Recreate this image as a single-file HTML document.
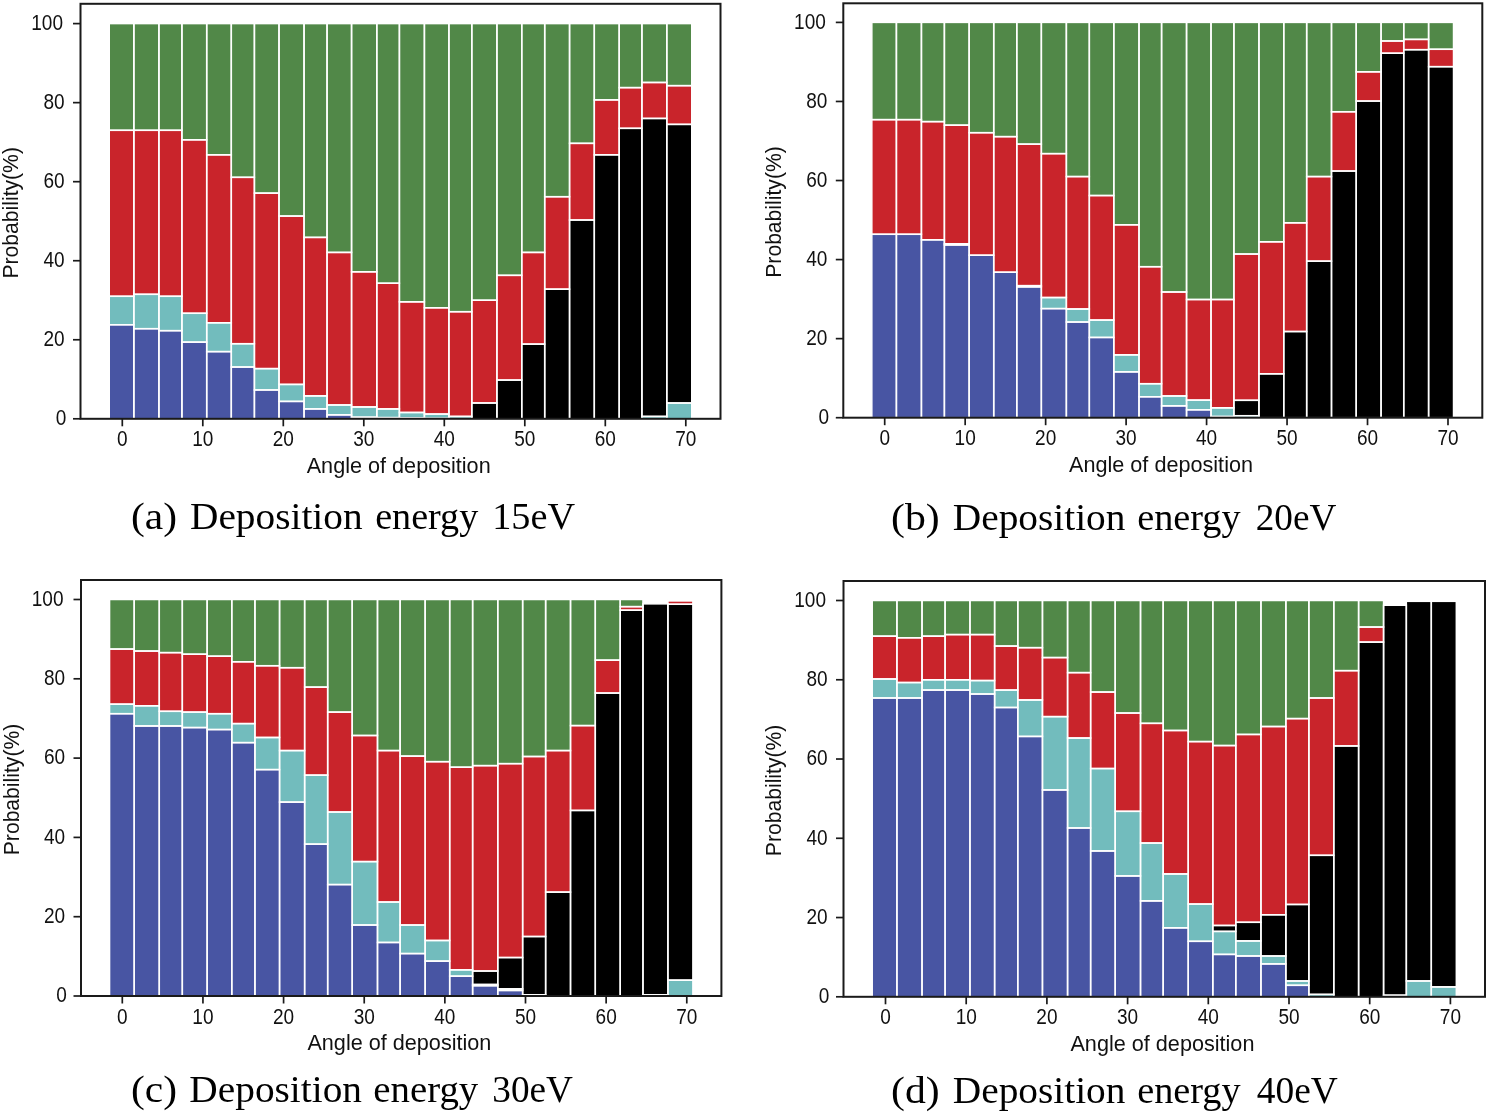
<!DOCTYPE html>
<html><head><meta charset="utf-8"><title>Deposition charts</title>
<style>html,body{margin:0;padding:0;background:#fff;width:1489px;height:1115px;overflow:hidden}svg{display:block;will-change:transform}</style>
</head><body>
<svg width="1489" height="1115" viewBox="0 0 1489 1115"><g><rect x="109.25" y="324.74" width="24.60" height="94.06" fill="#4855a3"/><rect x="109.25" y="296.29" width="24.60" height="28.45" fill="#72bcbd"/><rect x="109.25" y="130.30" width="24.60" height="165.98" fill="#c9242b"/><rect x="109.25" y="23.60" width="24.60" height="106.70" fill="#518848"/><rect x="133.85" y="328.69" width="25.05" height="90.11" fill="#4855a3"/><rect x="133.85" y="294.31" width="25.05" height="34.38" fill="#72bcbd"/><rect x="133.85" y="130.30" width="25.05" height="164.01" fill="#c9242b"/><rect x="133.85" y="23.60" width="25.05" height="106.70" fill="#518848"/><rect x="158.90" y="330.67" width="23.00" height="88.13" fill="#4855a3"/><rect x="158.90" y="296.29" width="23.00" height="34.38" fill="#72bcbd"/><rect x="158.90" y="130.30" width="23.00" height="165.98" fill="#c9242b"/><rect x="158.90" y="23.60" width="23.00" height="106.70" fill="#518848"/><rect x="181.90" y="342.13" width="24.80" height="76.67" fill="#4855a3"/><rect x="181.90" y="313.28" width="24.80" height="28.85" fill="#72bcbd"/><rect x="181.90" y="139.79" width="24.80" height="173.49" fill="#c9242b"/><rect x="181.90" y="23.60" width="24.80" height="116.19" fill="#518848"/><rect x="206.70" y="351.62" width="24.60" height="67.18" fill="#4855a3"/><rect x="206.70" y="322.77" width="24.60" height="28.85" fill="#72bcbd"/><rect x="206.70" y="154.81" width="24.60" height="167.96" fill="#c9242b"/><rect x="206.70" y="23.60" width="24.60" height="131.21" fill="#518848"/><rect x="231.30" y="367.03" width="23.10" height="51.77" fill="#4855a3"/><rect x="231.30" y="343.71" width="23.10" height="23.32" fill="#72bcbd"/><rect x="231.30" y="177.33" width="23.10" height="166.38" fill="#c9242b"/><rect x="231.30" y="23.60" width="23.10" height="153.73" fill="#518848"/><rect x="254.40" y="389.95" width="24.60" height="28.85" fill="#4855a3"/><rect x="254.40" y="368.61" width="24.60" height="21.34" fill="#72bcbd"/><rect x="254.40" y="193.14" width="24.60" height="175.47" fill="#c9242b"/><rect x="254.40" y="23.60" width="24.60" height="169.54" fill="#518848"/><rect x="279.00" y="401.41" width="25.05" height="17.39" fill="#4855a3"/><rect x="279.00" y="384.42" width="25.05" height="16.99" fill="#72bcbd"/><rect x="279.00" y="216.06" width="25.05" height="168.36" fill="#c9242b"/><rect x="279.00" y="23.60" width="25.05" height="192.46" fill="#518848"/><rect x="304.05" y="408.92" width="23.00" height="9.88" fill="#4855a3"/><rect x="304.05" y="395.88" width="23.00" height="13.04" fill="#72bcbd"/><rect x="304.05" y="237.40" width="23.00" height="158.48" fill="#c9242b"/><rect x="304.05" y="23.60" width="23.00" height="213.80" fill="#518848"/><rect x="327.05" y="414.85" width="24.50" height="3.95" fill="#4855a3"/><rect x="327.05" y="404.97" width="24.50" height="9.88" fill="#72bcbd"/><rect x="327.05" y="252.42" width="24.50" height="152.55" fill="#c9242b"/><rect x="327.05" y="23.60" width="24.50" height="228.82" fill="#518848"/><rect x="351.55" y="417.22" width="25.25" height="1.58" fill="#4855a3"/><rect x="351.55" y="406.94" width="25.25" height="10.28" fill="#72bcbd"/><rect x="351.55" y="271.79" width="25.25" height="135.16" fill="#c9242b"/><rect x="351.55" y="23.60" width="25.25" height="248.19" fill="#518848"/><rect x="376.80" y="417.61" width="22.60" height="1.19" fill="#4855a3"/><rect x="376.80" y="408.92" width="22.60" height="8.69" fill="#72bcbd"/><rect x="376.80" y="283.25" width="22.60" height="125.67" fill="#c9242b"/><rect x="376.80" y="23.60" width="22.60" height="259.65" fill="#518848"/><rect x="399.40" y="418.01" width="25.00" height="0.79" fill="#4855a3"/><rect x="399.40" y="412.48" width="25.00" height="5.53" fill="#72bcbd"/><rect x="399.40" y="301.82" width="25.00" height="110.66" fill="#c9242b"/><rect x="399.40" y="23.60" width="25.00" height="278.22" fill="#518848"/><rect x="424.40" y="418.40" width="24.50" height="0.40" fill="#4855a3"/><rect x="424.40" y="414.06" width="24.50" height="4.35" fill="#72bcbd"/><rect x="424.40" y="307.75" width="24.50" height="106.31" fill="#c9242b"/><rect x="424.40" y="23.60" width="24.50" height="284.15" fill="#518848"/><rect x="448.90" y="416.43" width="22.90" height="2.37" fill="#72bcbd"/><rect x="448.90" y="311.70" width="22.90" height="104.73" fill="#c9242b"/><rect x="448.90" y="23.60" width="22.90" height="288.10" fill="#518848"/><rect x="471.80" y="402.99" width="25.10" height="15.81" fill="#000000"/><rect x="471.80" y="300.24" width="25.10" height="102.75" fill="#c9242b"/><rect x="471.80" y="23.60" width="25.10" height="276.64" fill="#518848"/><rect x="496.90" y="380.07" width="24.85" height="38.73" fill="#000000"/><rect x="496.90" y="275.34" width="24.85" height="104.73" fill="#c9242b"/><rect x="496.90" y="23.60" width="24.85" height="251.74" fill="#518848"/><rect x="521.75" y="344.11" width="22.95" height="74.69" fill="#000000"/><rect x="521.75" y="252.42" width="22.95" height="91.69" fill="#c9242b"/><rect x="521.75" y="23.60" width="22.95" height="228.82" fill="#518848"/><rect x="544.70" y="289.17" width="24.85" height="129.63" fill="#000000"/><rect x="544.70" y="196.70" width="24.85" height="92.48" fill="#c9242b"/><rect x="544.70" y="23.60" width="24.85" height="173.10" fill="#518848"/><rect x="569.55" y="220.01" width="24.75" height="198.79" fill="#000000"/><rect x="569.55" y="143.35" width="24.75" height="76.67" fill="#c9242b"/><rect x="569.55" y="23.60" width="24.75" height="119.75" fill="#518848"/><rect x="594.30" y="154.81" width="24.90" height="263.99" fill="#000000"/><rect x="594.30" y="99.87" width="24.90" height="54.93" fill="#c9242b"/><rect x="594.30" y="23.60" width="24.90" height="76.27" fill="#518848"/><rect x="619.20" y="128.33" width="22.70" height="290.47" fill="#000000"/><rect x="619.20" y="87.62" width="22.70" height="40.71" fill="#c9242b"/><rect x="619.20" y="23.60" width="22.70" height="64.02" fill="#518848"/><rect x="641.90" y="416.43" width="24.90" height="2.37" fill="#72bcbd"/><rect x="641.90" y="118.45" width="24.90" height="297.98" fill="#000000"/><rect x="641.90" y="82.48" width="24.90" height="35.96" fill="#c9242b"/><rect x="641.90" y="23.60" width="24.90" height="58.88" fill="#518848"/><rect x="666.80" y="402.99" width="24.95" height="15.81" fill="#72bcbd"/><rect x="666.80" y="124.38" width="24.95" height="278.62" fill="#000000"/><rect x="666.80" y="85.65" width="24.95" height="38.73" fill="#c9242b"/><rect x="666.80" y="23.60" width="24.95" height="62.05" fill="#518848"/><rect x="109.25" y="324.74" width="24.60" height="94.06" fill="none" stroke="#fff" stroke-width="1.5"/><rect x="109.25" y="296.29" width="24.60" height="28.45" fill="none" stroke="#fff" stroke-width="1.5"/><rect x="109.25" y="130.30" width="24.60" height="165.98" fill="none" stroke="#fff" stroke-width="1.5"/><rect x="109.25" y="23.60" width="24.60" height="106.70" fill="none" stroke="#fff" stroke-width="1.5"/><rect x="133.85" y="328.69" width="25.05" height="90.11" fill="none" stroke="#fff" stroke-width="1.5"/><rect x="133.85" y="294.31" width="25.05" height="34.38" fill="none" stroke="#fff" stroke-width="1.5"/><rect x="133.85" y="130.30" width="25.05" height="164.01" fill="none" stroke="#fff" stroke-width="1.5"/><rect x="133.85" y="23.60" width="25.05" height="106.70" fill="none" stroke="#fff" stroke-width="1.5"/><rect x="158.90" y="330.67" width="23.00" height="88.13" fill="none" stroke="#fff" stroke-width="1.5"/><rect x="158.90" y="296.29" width="23.00" height="34.38" fill="none" stroke="#fff" stroke-width="1.5"/><rect x="158.90" y="130.30" width="23.00" height="165.98" fill="none" stroke="#fff" stroke-width="1.5"/><rect x="158.90" y="23.60" width="23.00" height="106.70" fill="none" stroke="#fff" stroke-width="1.5"/><rect x="181.90" y="342.13" width="24.80" height="76.67" fill="none" stroke="#fff" stroke-width="1.5"/><rect x="181.90" y="313.28" width="24.80" height="28.85" fill="none" stroke="#fff" stroke-width="1.5"/><rect x="181.90" y="139.79" width="24.80" height="173.49" fill="none" stroke="#fff" stroke-width="1.5"/><rect x="181.90" y="23.60" width="24.80" height="116.19" fill="none" stroke="#fff" stroke-width="1.5"/><rect x="206.70" y="351.62" width="24.60" height="67.18" fill="none" stroke="#fff" stroke-width="1.5"/><rect x="206.70" y="322.77" width="24.60" height="28.85" fill="none" stroke="#fff" stroke-width="1.5"/><rect x="206.70" y="154.81" width="24.60" height="167.96" fill="none" stroke="#fff" stroke-width="1.5"/><rect x="206.70" y="23.60" width="24.60" height="131.21" fill="none" stroke="#fff" stroke-width="1.5"/><rect x="231.30" y="367.03" width="23.10" height="51.77" fill="none" stroke="#fff" stroke-width="1.5"/><rect x="231.30" y="343.71" width="23.10" height="23.32" fill="none" stroke="#fff" stroke-width="1.5"/><rect x="231.30" y="177.33" width="23.10" height="166.38" fill="none" stroke="#fff" stroke-width="1.5"/><rect x="231.30" y="23.60" width="23.10" height="153.73" fill="none" stroke="#fff" stroke-width="1.5"/><rect x="254.40" y="389.95" width="24.60" height="28.85" fill="none" stroke="#fff" stroke-width="1.5"/><rect x="254.40" y="368.61" width="24.60" height="21.34" fill="none" stroke="#fff" stroke-width="1.5"/><rect x="254.40" y="193.14" width="24.60" height="175.47" fill="none" stroke="#fff" stroke-width="1.5"/><rect x="254.40" y="23.60" width="24.60" height="169.54" fill="none" stroke="#fff" stroke-width="1.5"/><rect x="279.00" y="401.41" width="25.05" height="17.39" fill="none" stroke="#fff" stroke-width="1.5"/><rect x="279.00" y="384.42" width="25.05" height="16.99" fill="none" stroke="#fff" stroke-width="1.5"/><rect x="279.00" y="216.06" width="25.05" height="168.36" fill="none" stroke="#fff" stroke-width="1.5"/><rect x="279.00" y="23.60" width="25.05" height="192.46" fill="none" stroke="#fff" stroke-width="1.5"/><rect x="304.05" y="408.92" width="23.00" height="9.88" fill="none" stroke="#fff" stroke-width="1.5"/><rect x="304.05" y="395.88" width="23.00" height="13.04" fill="none" stroke="#fff" stroke-width="1.5"/><rect x="304.05" y="237.40" width="23.00" height="158.48" fill="none" stroke="#fff" stroke-width="1.5"/><rect x="304.05" y="23.60" width="23.00" height="213.80" fill="none" stroke="#fff" stroke-width="1.5"/><rect x="327.05" y="414.85" width="24.50" height="3.95" fill="none" stroke="#fff" stroke-width="1.5"/><rect x="327.05" y="404.97" width="24.50" height="9.88" fill="none" stroke="#fff" stroke-width="1.5"/><rect x="327.05" y="252.42" width="24.50" height="152.55" fill="none" stroke="#fff" stroke-width="1.5"/><rect x="327.05" y="23.60" width="24.50" height="228.82" fill="none" stroke="#fff" stroke-width="1.5"/><rect x="351.55" y="417.22" width="25.25" height="1.58" fill="none" stroke="#fff" stroke-width="1.5"/><rect x="351.55" y="406.94" width="25.25" height="10.28" fill="none" stroke="#fff" stroke-width="1.5"/><rect x="351.55" y="271.79" width="25.25" height="135.16" fill="none" stroke="#fff" stroke-width="1.5"/><rect x="351.55" y="23.60" width="25.25" height="248.19" fill="none" stroke="#fff" stroke-width="1.5"/><rect x="376.80" y="417.61" width="22.60" height="1.19" fill="none" stroke="#fff" stroke-width="1.5"/><rect x="376.80" y="408.92" width="22.60" height="8.69" fill="none" stroke="#fff" stroke-width="1.5"/><rect x="376.80" y="283.25" width="22.60" height="125.67" fill="none" stroke="#fff" stroke-width="1.5"/><rect x="376.80" y="23.60" width="22.60" height="259.65" fill="none" stroke="#fff" stroke-width="1.5"/><rect x="399.40" y="418.01" width="25.00" height="0.79" fill="none" stroke="#fff" stroke-width="1.5"/><rect x="399.40" y="412.48" width="25.00" height="5.53" fill="none" stroke="#fff" stroke-width="1.5"/><rect x="399.40" y="301.82" width="25.00" height="110.66" fill="none" stroke="#fff" stroke-width="1.5"/><rect x="399.40" y="23.60" width="25.00" height="278.22" fill="none" stroke="#fff" stroke-width="1.5"/><rect x="424.40" y="418.40" width="24.50" height="0.40" fill="none" stroke="#fff" stroke-width="1.5"/><rect x="424.40" y="414.06" width="24.50" height="4.35" fill="none" stroke="#fff" stroke-width="1.5"/><rect x="424.40" y="307.75" width="24.50" height="106.31" fill="none" stroke="#fff" stroke-width="1.5"/><rect x="424.40" y="23.60" width="24.50" height="284.15" fill="none" stroke="#fff" stroke-width="1.5"/><rect x="448.90" y="416.43" width="22.90" height="2.37" fill="none" stroke="#fff" stroke-width="1.5"/><rect x="448.90" y="311.70" width="22.90" height="104.73" fill="none" stroke="#fff" stroke-width="1.5"/><rect x="448.90" y="23.60" width="22.90" height="288.10" fill="none" stroke="#fff" stroke-width="1.5"/><rect x="471.80" y="402.99" width="25.10" height="15.81" fill="none" stroke="#fff" stroke-width="1.5"/><rect x="471.80" y="300.24" width="25.10" height="102.75" fill="none" stroke="#fff" stroke-width="1.5"/><rect x="471.80" y="23.60" width="25.10" height="276.64" fill="none" stroke="#fff" stroke-width="1.5"/><rect x="496.90" y="380.07" width="24.85" height="38.73" fill="none" stroke="#fff" stroke-width="1.5"/><rect x="496.90" y="275.34" width="24.85" height="104.73" fill="none" stroke="#fff" stroke-width="1.5"/><rect x="496.90" y="23.60" width="24.85" height="251.74" fill="none" stroke="#fff" stroke-width="1.5"/><rect x="521.75" y="344.11" width="22.95" height="74.69" fill="none" stroke="#fff" stroke-width="1.5"/><rect x="521.75" y="252.42" width="22.95" height="91.69" fill="none" stroke="#fff" stroke-width="1.5"/><rect x="521.75" y="23.60" width="22.95" height="228.82" fill="none" stroke="#fff" stroke-width="1.5"/><rect x="544.70" y="289.17" width="24.85" height="129.63" fill="none" stroke="#fff" stroke-width="1.5"/><rect x="544.70" y="196.70" width="24.85" height="92.48" fill="none" stroke="#fff" stroke-width="1.5"/><rect x="544.70" y="23.60" width="24.85" height="173.10" fill="none" stroke="#fff" stroke-width="1.5"/><rect x="569.55" y="220.01" width="24.75" height="198.79" fill="none" stroke="#fff" stroke-width="1.5"/><rect x="569.55" y="143.35" width="24.75" height="76.67" fill="none" stroke="#fff" stroke-width="1.5"/><rect x="569.55" y="23.60" width="24.75" height="119.75" fill="none" stroke="#fff" stroke-width="1.5"/><rect x="594.30" y="154.81" width="24.90" height="263.99" fill="none" stroke="#fff" stroke-width="1.5"/><rect x="594.30" y="99.87" width="24.90" height="54.93" fill="none" stroke="#fff" stroke-width="1.5"/><rect x="594.30" y="23.60" width="24.90" height="76.27" fill="none" stroke="#fff" stroke-width="1.5"/><rect x="619.20" y="128.33" width="22.70" height="290.47" fill="none" stroke="#fff" stroke-width="1.5"/><rect x="619.20" y="87.62" width="22.70" height="40.71" fill="none" stroke="#fff" stroke-width="1.5"/><rect x="619.20" y="23.60" width="22.70" height="64.02" fill="none" stroke="#fff" stroke-width="1.5"/><rect x="641.90" y="416.43" width="24.90" height="2.37" fill="none" stroke="#fff" stroke-width="1.5"/><rect x="641.90" y="118.45" width="24.90" height="297.98" fill="none" stroke="#fff" stroke-width="1.5"/><rect x="641.90" y="82.48" width="24.90" height="35.96" fill="none" stroke="#fff" stroke-width="1.5"/><rect x="641.90" y="23.60" width="24.90" height="58.88" fill="none" stroke="#fff" stroke-width="1.5"/><rect x="666.80" y="402.99" width="24.95" height="15.81" fill="none" stroke="#fff" stroke-width="1.5"/><rect x="666.80" y="124.38" width="24.95" height="278.62" fill="none" stroke="#fff" stroke-width="1.5"/><rect x="666.80" y="85.65" width="24.95" height="38.73" fill="none" stroke="#fff" stroke-width="1.5"/><rect x="666.80" y="23.60" width="24.95" height="62.05" fill="none" stroke="#fff" stroke-width="1.5"/></g>
<rect x="80.50" y="3.80" width="640.00" height="415.00" fill="none" stroke="#1a1a1a" stroke-width="2"/>
<g stroke="#1a1a1a" stroke-width="1.7"><line x1="122.30" y1="418.80" x2="122.30" y2="426.30"/><line x1="202.80" y1="418.80" x2="202.80" y2="426.30"/><line x1="283.30" y1="418.80" x2="283.30" y2="426.30"/><line x1="363.80" y1="418.80" x2="363.80" y2="426.30"/><line x1="444.30" y1="418.80" x2="444.30" y2="426.30"/><line x1="524.80" y1="418.80" x2="524.80" y2="426.30"/><line x1="605.30" y1="418.80" x2="605.30" y2="426.30"/><line x1="685.80" y1="418.80" x2="685.80" y2="426.30"/><line x1="73.00" y1="418.80" x2="80.50" y2="418.80"/><line x1="73.00" y1="339.76" x2="80.50" y2="339.76"/><line x1="73.00" y1="260.72" x2="80.50" y2="260.72"/><line x1="73.00" y1="181.68" x2="80.50" y2="181.68"/><line x1="73.00" y1="102.64" x2="80.50" y2="102.64"/><line x1="73.00" y1="23.60" x2="80.50" y2="23.60"/></g>
<g font-family="Liberation Sans, sans-serif" font-size="21.5" fill="#111"><text transform="translate(122.30,446.30) scale(0.885,1)" text-anchor="middle">0</text><text transform="translate(202.80,446.30) scale(0.885,1)" text-anchor="middle">10</text><text transform="translate(283.30,446.30) scale(0.885,1)" text-anchor="middle">20</text><text transform="translate(363.80,446.30) scale(0.885,1)" text-anchor="middle">30</text><text transform="translate(444.30,446.30) scale(0.885,1)" text-anchor="middle">40</text><text transform="translate(524.80,446.30) scale(0.885,1)" text-anchor="middle">50</text><text transform="translate(605.30,446.30) scale(0.885,1)" text-anchor="middle">60</text><text transform="translate(685.80,446.30) scale(0.885,1)" text-anchor="middle">70</text><text transform="translate(66.30,425.10) scale(0.885,1)" text-anchor="end">0</text><text transform="translate(64.65,346.06) scale(0.885,1)" text-anchor="end">20</text><text transform="translate(64.65,267.02) scale(0.885,1)" text-anchor="end">40</text><text transform="translate(64.65,187.98) scale(0.885,1)" text-anchor="end">60</text><text transform="translate(64.65,108.94) scale(0.885,1)" text-anchor="end">80</text><text transform="translate(63.00,29.90) scale(0.885,1)" text-anchor="end">100</text><text x="306.70" y="473.10" textLength="184" lengthAdjust="spacingAndGlyphs">Angle of deposition</text><text transform="translate(18.20,278.55) rotate(-90)" textLength="131.5" lengthAdjust="spacingAndGlyphs">Probability(%)</text></g>
<text x="131.02" y="528.90" font-family="Liberation Serif, serif" font-size="37" fill="#000" textLength="46.01" lengthAdjust="spacingAndGlyphs">(a)</text>
<text x="189.99" y="528.90" font-family="Liberation Serif, serif" font-size="37" fill="#000" textLength="172.61" lengthAdjust="spacingAndGlyphs">Deposition</text>
<text x="375.18" y="528.90" font-family="Liberation Serif, serif" font-size="37" fill="#000" textLength="103.03" lengthAdjust="spacingAndGlyphs">energy</text>
<text x="492.23" y="528.90" font-family="Liberation Serif, serif" font-size="37" fill="#000" textLength="82.81" lengthAdjust="spacingAndGlyphs">15eV</text>
<g><rect x="871.83" y="234.28" width="24.57" height="183.42" fill="#4855a3"/><rect x="871.83" y="119.64" width="24.57" height="114.64" fill="#c9242b"/><rect x="871.83" y="22.40" width="24.57" height="97.24" fill="#518848"/><rect x="896.40" y="234.28" width="25.02" height="183.42" fill="#4855a3"/><rect x="896.40" y="119.64" width="25.02" height="114.64" fill="#c9242b"/><rect x="896.40" y="22.40" width="25.02" height="97.24" fill="#518848"/><rect x="921.42" y="239.81" width="22.97" height="177.88" fill="#4855a3"/><rect x="921.42" y="121.62" width="22.97" height="118.19" fill="#c9242b"/><rect x="921.42" y="22.40" width="22.97" height="99.22" fill="#518848"/><rect x="944.38" y="244.95" width="24.77" height="172.75" fill="#4855a3"/><rect x="944.38" y="243.77" width="24.77" height="1.19" fill="#72bcbd"/><rect x="944.38" y="125.18" width="24.77" height="118.59" fill="#c9242b"/><rect x="944.38" y="22.40" width="24.77" height="102.78" fill="#518848"/><rect x="969.15" y="255.23" width="24.57" height="162.47" fill="#4855a3"/><rect x="969.15" y="132.69" width="24.57" height="122.54" fill="#c9242b"/><rect x="969.15" y="22.40" width="24.57" height="110.29" fill="#518848"/><rect x="993.71" y="272.23" width="23.07" height="145.47" fill="#4855a3"/><rect x="993.71" y="136.64" width="23.07" height="135.59" fill="#c9242b"/><rect x="993.71" y="22.40" width="23.07" height="114.24" fill="#518848"/><rect x="1016.78" y="286.86" width="24.57" height="130.84" fill="#4855a3"/><rect x="1016.78" y="285.67" width="24.57" height="1.19" fill="#72bcbd"/><rect x="1016.78" y="144.15" width="24.57" height="141.52" fill="#c9242b"/><rect x="1016.78" y="22.40" width="24.57" height="121.75" fill="#518848"/><rect x="1041.35" y="308.60" width="25.02" height="109.10" fill="#4855a3"/><rect x="1041.35" y="297.53" width="25.02" height="11.07" fill="#72bcbd"/><rect x="1041.35" y="153.64" width="25.02" height="143.89" fill="#c9242b"/><rect x="1041.35" y="22.40" width="25.02" height="131.24" fill="#518848"/><rect x="1066.36" y="322.04" width="22.97" height="95.66" fill="#4855a3"/><rect x="1066.36" y="308.99" width="22.97" height="13.04" fill="#72bcbd"/><rect x="1066.36" y="176.57" width="22.97" height="132.43" fill="#c9242b"/><rect x="1066.36" y="22.40" width="22.97" height="154.17" fill="#518848"/><rect x="1089.33" y="337.45" width="24.47" height="80.25" fill="#4855a3"/><rect x="1089.33" y="320.06" width="24.47" height="17.39" fill="#72bcbd"/><rect x="1089.33" y="195.54" width="24.47" height="124.52" fill="#c9242b"/><rect x="1089.33" y="22.40" width="24.47" height="173.14" fill="#518848"/><rect x="1113.79" y="371.85" width="25.22" height="45.85" fill="#4855a3"/><rect x="1113.79" y="354.85" width="25.22" height="17.00" fill="#72bcbd"/><rect x="1113.79" y="224.79" width="25.22" height="130.05" fill="#c9242b"/><rect x="1113.79" y="22.40" width="25.22" height="202.39" fill="#518848"/><rect x="1139.01" y="396.75" width="22.57" height="20.95" fill="#4855a3"/><rect x="1139.01" y="383.70" width="22.57" height="13.04" fill="#72bcbd"/><rect x="1139.01" y="266.70" width="22.57" height="117.01" fill="#c9242b"/><rect x="1139.01" y="22.40" width="22.57" height="244.30" fill="#518848"/><rect x="1161.57" y="405.84" width="24.97" height="11.86" fill="#4855a3"/><rect x="1161.57" y="395.96" width="24.97" height="9.88" fill="#72bcbd"/><rect x="1161.57" y="291.99" width="24.97" height="103.96" fill="#c9242b"/><rect x="1161.57" y="22.40" width="24.97" height="269.59" fill="#518848"/><rect x="1186.54" y="409.79" width="24.47" height="7.91" fill="#4855a3"/><rect x="1186.54" y="400.11" width="24.47" height="9.68" fill="#72bcbd"/><rect x="1186.54" y="299.51" width="24.47" height="100.60" fill="#c9242b"/><rect x="1186.54" y="22.40" width="24.47" height="277.11" fill="#518848"/><rect x="1211.01" y="416.51" width="22.87" height="1.19" fill="#4855a3"/><rect x="1211.01" y="407.82" width="22.87" height="8.70" fill="#72bcbd"/><rect x="1211.01" y="299.51" width="22.87" height="108.31" fill="#c9242b"/><rect x="1211.01" y="22.40" width="22.87" height="277.11" fill="#518848"/><rect x="1233.87" y="415.72" width="25.07" height="1.98" fill="#72bcbd"/><rect x="1233.87" y="400.31" width="25.07" height="15.42" fill="#000000"/><rect x="1233.87" y="254.05" width="25.07" height="146.26" fill="#c9242b"/><rect x="1233.87" y="22.40" width="25.07" height="231.65" fill="#518848"/><rect x="1258.94" y="373.82" width="24.82" height="43.88" fill="#000000"/><rect x="1258.94" y="241.79" width="24.82" height="132.03" fill="#c9242b"/><rect x="1258.94" y="22.40" width="24.82" height="219.39" fill="#518848"/><rect x="1283.75" y="331.52" width="22.92" height="86.18" fill="#000000"/><rect x="1283.75" y="222.82" width="22.92" height="108.71" fill="#c9242b"/><rect x="1283.75" y="22.40" width="22.92" height="200.42" fill="#518848"/><rect x="1306.67" y="261.16" width="24.82" height="156.54" fill="#000000"/><rect x="1306.67" y="176.57" width="24.82" height="84.59" fill="#c9242b"/><rect x="1306.67" y="22.40" width="24.82" height="154.17" fill="#518848"/><rect x="1331.49" y="171.03" width="24.72" height="246.67" fill="#000000"/><rect x="1331.49" y="111.74" width="24.72" height="59.30" fill="#c9242b"/><rect x="1331.49" y="22.40" width="24.72" height="89.34" fill="#518848"/><rect x="1356.20" y="101.06" width="24.87" height="316.64" fill="#000000"/><rect x="1356.20" y="71.81" width="24.87" height="29.25" fill="#c9242b"/><rect x="1356.20" y="22.40" width="24.87" height="49.41" fill="#518848"/><rect x="1381.07" y="53.23" width="22.67" height="364.47" fill="#000000"/><rect x="1381.07" y="40.98" width="22.67" height="12.25" fill="#c9242b"/><rect x="1381.07" y="22.40" width="22.67" height="18.58" fill="#518848"/><rect x="1403.73" y="49.68" width="24.87" height="368.02" fill="#000000"/><rect x="1403.73" y="39.40" width="24.87" height="10.28" fill="#c9242b"/><rect x="1403.73" y="22.40" width="24.87" height="17.00" fill="#518848"/><rect x="1428.60" y="66.67" width="24.92" height="351.03" fill="#000000"/><rect x="1428.60" y="49.28" width="24.92" height="17.39" fill="#c9242b"/><rect x="1428.60" y="22.40" width="24.92" height="26.88" fill="#518848"/><rect x="871.83" y="234.28" width="24.57" height="183.42" fill="none" stroke="#fff" stroke-width="1.5"/><rect x="871.83" y="119.64" width="24.57" height="114.64" fill="none" stroke="#fff" stroke-width="1.5"/><rect x="871.83" y="22.40" width="24.57" height="97.24" fill="none" stroke="#fff" stroke-width="1.5"/><rect x="896.40" y="234.28" width="25.02" height="183.42" fill="none" stroke="#fff" stroke-width="1.5"/><rect x="896.40" y="119.64" width="25.02" height="114.64" fill="none" stroke="#fff" stroke-width="1.5"/><rect x="896.40" y="22.40" width="25.02" height="97.24" fill="none" stroke="#fff" stroke-width="1.5"/><rect x="921.42" y="239.81" width="22.97" height="177.88" fill="none" stroke="#fff" stroke-width="1.5"/><rect x="921.42" y="121.62" width="22.97" height="118.19" fill="none" stroke="#fff" stroke-width="1.5"/><rect x="921.42" y="22.40" width="22.97" height="99.22" fill="none" stroke="#fff" stroke-width="1.5"/><rect x="944.38" y="244.95" width="24.77" height="172.75" fill="none" stroke="#fff" stroke-width="1.5"/><rect x="944.38" y="243.77" width="24.77" height="1.19" fill="none" stroke="#fff" stroke-width="1.5"/><rect x="944.38" y="125.18" width="24.77" height="118.59" fill="none" stroke="#fff" stroke-width="1.5"/><rect x="944.38" y="22.40" width="24.77" height="102.78" fill="none" stroke="#fff" stroke-width="1.5"/><rect x="969.15" y="255.23" width="24.57" height="162.47" fill="none" stroke="#fff" stroke-width="1.5"/><rect x="969.15" y="132.69" width="24.57" height="122.54" fill="none" stroke="#fff" stroke-width="1.5"/><rect x="969.15" y="22.40" width="24.57" height="110.29" fill="none" stroke="#fff" stroke-width="1.5"/><rect x="993.71" y="272.23" width="23.07" height="145.47" fill="none" stroke="#fff" stroke-width="1.5"/><rect x="993.71" y="136.64" width="23.07" height="135.59" fill="none" stroke="#fff" stroke-width="1.5"/><rect x="993.71" y="22.40" width="23.07" height="114.24" fill="none" stroke="#fff" stroke-width="1.5"/><rect x="1016.78" y="286.86" width="24.57" height="130.84" fill="none" stroke="#fff" stroke-width="1.5"/><rect x="1016.78" y="285.67" width="24.57" height="1.19" fill="none" stroke="#fff" stroke-width="1.5"/><rect x="1016.78" y="144.15" width="24.57" height="141.52" fill="none" stroke="#fff" stroke-width="1.5"/><rect x="1016.78" y="22.40" width="24.57" height="121.75" fill="none" stroke="#fff" stroke-width="1.5"/><rect x="1041.35" y="308.60" width="25.02" height="109.10" fill="none" stroke="#fff" stroke-width="1.5"/><rect x="1041.35" y="297.53" width="25.02" height="11.07" fill="none" stroke="#fff" stroke-width="1.5"/><rect x="1041.35" y="153.64" width="25.02" height="143.89" fill="none" stroke="#fff" stroke-width="1.5"/><rect x="1041.35" y="22.40" width="25.02" height="131.24" fill="none" stroke="#fff" stroke-width="1.5"/><rect x="1066.36" y="322.04" width="22.97" height="95.66" fill="none" stroke="#fff" stroke-width="1.5"/><rect x="1066.36" y="308.99" width="22.97" height="13.04" fill="none" stroke="#fff" stroke-width="1.5"/><rect x="1066.36" y="176.57" width="22.97" height="132.43" fill="none" stroke="#fff" stroke-width="1.5"/><rect x="1066.36" y="22.40" width="22.97" height="154.17" fill="none" stroke="#fff" stroke-width="1.5"/><rect x="1089.33" y="337.45" width="24.47" height="80.25" fill="none" stroke="#fff" stroke-width="1.5"/><rect x="1089.33" y="320.06" width="24.47" height="17.39" fill="none" stroke="#fff" stroke-width="1.5"/><rect x="1089.33" y="195.54" width="24.47" height="124.52" fill="none" stroke="#fff" stroke-width="1.5"/><rect x="1089.33" y="22.40" width="24.47" height="173.14" fill="none" stroke="#fff" stroke-width="1.5"/><rect x="1113.79" y="371.85" width="25.22" height="45.85" fill="none" stroke="#fff" stroke-width="1.5"/><rect x="1113.79" y="354.85" width="25.22" height="17.00" fill="none" stroke="#fff" stroke-width="1.5"/><rect x="1113.79" y="224.79" width="25.22" height="130.05" fill="none" stroke="#fff" stroke-width="1.5"/><rect x="1113.79" y="22.40" width="25.22" height="202.39" fill="none" stroke="#fff" stroke-width="1.5"/><rect x="1139.01" y="396.75" width="22.57" height="20.95" fill="none" stroke="#fff" stroke-width="1.5"/><rect x="1139.01" y="383.70" width="22.57" height="13.04" fill="none" stroke="#fff" stroke-width="1.5"/><rect x="1139.01" y="266.70" width="22.57" height="117.01" fill="none" stroke="#fff" stroke-width="1.5"/><rect x="1139.01" y="22.40" width="22.57" height="244.30" fill="none" stroke="#fff" stroke-width="1.5"/><rect x="1161.57" y="405.84" width="24.97" height="11.86" fill="none" stroke="#fff" stroke-width="1.5"/><rect x="1161.57" y="395.96" width="24.97" height="9.88" fill="none" stroke="#fff" stroke-width="1.5"/><rect x="1161.57" y="291.99" width="24.97" height="103.96" fill="none" stroke="#fff" stroke-width="1.5"/><rect x="1161.57" y="22.40" width="24.97" height="269.59" fill="none" stroke="#fff" stroke-width="1.5"/><rect x="1186.54" y="409.79" width="24.47" height="7.91" fill="none" stroke="#fff" stroke-width="1.5"/><rect x="1186.54" y="400.11" width="24.47" height="9.68" fill="none" stroke="#fff" stroke-width="1.5"/><rect x="1186.54" y="299.51" width="24.47" height="100.60" fill="none" stroke="#fff" stroke-width="1.5"/><rect x="1186.54" y="22.40" width="24.47" height="277.11" fill="none" stroke="#fff" stroke-width="1.5"/><rect x="1211.01" y="416.51" width="22.87" height="1.19" fill="none" stroke="#fff" stroke-width="1.5"/><rect x="1211.01" y="407.82" width="22.87" height="8.70" fill="none" stroke="#fff" stroke-width="1.5"/><rect x="1211.01" y="299.51" width="22.87" height="108.31" fill="none" stroke="#fff" stroke-width="1.5"/><rect x="1211.01" y="22.40" width="22.87" height="277.11" fill="none" stroke="#fff" stroke-width="1.5"/><rect x="1233.87" y="415.72" width="25.07" height="1.98" fill="none" stroke="#fff" stroke-width="1.5"/><rect x="1233.87" y="400.31" width="25.07" height="15.42" fill="none" stroke="#fff" stroke-width="1.5"/><rect x="1233.87" y="254.05" width="25.07" height="146.26" fill="none" stroke="#fff" stroke-width="1.5"/><rect x="1233.87" y="22.40" width="25.07" height="231.65" fill="none" stroke="#fff" stroke-width="1.5"/><rect x="1258.94" y="373.82" width="24.82" height="43.88" fill="none" stroke="#fff" stroke-width="1.5"/><rect x="1258.94" y="241.79" width="24.82" height="132.03" fill="none" stroke="#fff" stroke-width="1.5"/><rect x="1258.94" y="22.40" width="24.82" height="219.39" fill="none" stroke="#fff" stroke-width="1.5"/><rect x="1283.75" y="331.52" width="22.92" height="86.18" fill="none" stroke="#fff" stroke-width="1.5"/><rect x="1283.75" y="222.82" width="22.92" height="108.71" fill="none" stroke="#fff" stroke-width="1.5"/><rect x="1283.75" y="22.40" width="22.92" height="200.42" fill="none" stroke="#fff" stroke-width="1.5"/><rect x="1306.67" y="261.16" width="24.82" height="156.54" fill="none" stroke="#fff" stroke-width="1.5"/><rect x="1306.67" y="176.57" width="24.82" height="84.59" fill="none" stroke="#fff" stroke-width="1.5"/><rect x="1306.67" y="22.40" width="24.82" height="154.17" fill="none" stroke="#fff" stroke-width="1.5"/><rect x="1331.49" y="171.03" width="24.72" height="246.67" fill="none" stroke="#fff" stroke-width="1.5"/><rect x="1331.49" y="111.74" width="24.72" height="59.30" fill="none" stroke="#fff" stroke-width="1.5"/><rect x="1331.49" y="22.40" width="24.72" height="89.34" fill="none" stroke="#fff" stroke-width="1.5"/><rect x="1356.20" y="101.06" width="24.87" height="316.64" fill="none" stroke="#fff" stroke-width="1.5"/><rect x="1356.20" y="71.81" width="24.87" height="29.25" fill="none" stroke="#fff" stroke-width="1.5"/><rect x="1356.20" y="22.40" width="24.87" height="49.41" fill="none" stroke="#fff" stroke-width="1.5"/><rect x="1381.07" y="53.23" width="22.67" height="364.47" fill="none" stroke="#fff" stroke-width="1.5"/><rect x="1381.07" y="40.98" width="22.67" height="12.25" fill="none" stroke="#fff" stroke-width="1.5"/><rect x="1381.07" y="22.40" width="22.67" height="18.58" fill="none" stroke="#fff" stroke-width="1.5"/><rect x="1403.73" y="49.68" width="24.87" height="368.02" fill="none" stroke="#fff" stroke-width="1.5"/><rect x="1403.73" y="39.40" width="24.87" height="10.28" fill="none" stroke="#fff" stroke-width="1.5"/><rect x="1403.73" y="22.40" width="24.87" height="17.00" fill="none" stroke="#fff" stroke-width="1.5"/><rect x="1428.60" y="66.67" width="24.92" height="351.03" fill="none" stroke="#fff" stroke-width="1.5"/><rect x="1428.60" y="49.28" width="24.92" height="17.39" fill="none" stroke="#fff" stroke-width="1.5"/><rect x="1428.60" y="22.40" width="24.92" height="26.88" fill="none" stroke="#fff" stroke-width="1.5"/></g>
<rect x="843.30" y="3.30" width="639.00" height="414.40" fill="none" stroke="#1a1a1a" stroke-width="2"/>
<g stroke="#1a1a1a" stroke-width="1.7"><line x1="884.70" y1="417.70" x2="884.70" y2="425.20"/><line x1="965.17" y1="417.70" x2="965.17" y2="425.20"/><line x1="1045.64" y1="417.70" x2="1045.64" y2="425.20"/><line x1="1126.11" y1="417.70" x2="1126.11" y2="425.20"/><line x1="1206.58" y1="417.70" x2="1206.58" y2="425.20"/><line x1="1287.05" y1="417.70" x2="1287.05" y2="425.20"/><line x1="1367.52" y1="417.70" x2="1367.52" y2="425.20"/><line x1="1447.99" y1="417.70" x2="1447.99" y2="425.20"/><line x1="835.80" y1="417.70" x2="843.30" y2="417.70"/><line x1="835.80" y1="338.64" x2="843.30" y2="338.64"/><line x1="835.80" y1="259.58" x2="843.30" y2="259.58"/><line x1="835.80" y1="180.52" x2="843.30" y2="180.52"/><line x1="835.80" y1="101.46" x2="843.30" y2="101.46"/><line x1="835.80" y1="22.40" x2="843.30" y2="22.40"/></g>
<g font-family="Liberation Sans, sans-serif" font-size="21.5" fill="#111"><text transform="translate(884.70,445.20) scale(0.885,1)" text-anchor="middle">0</text><text transform="translate(965.17,445.20) scale(0.885,1)" text-anchor="middle">10</text><text transform="translate(1045.64,445.20) scale(0.885,1)" text-anchor="middle">20</text><text transform="translate(1126.11,445.20) scale(0.885,1)" text-anchor="middle">30</text><text transform="translate(1206.58,445.20) scale(0.885,1)" text-anchor="middle">40</text><text transform="translate(1287.05,445.20) scale(0.885,1)" text-anchor="middle">50</text><text transform="translate(1367.52,445.20) scale(0.885,1)" text-anchor="middle">60</text><text transform="translate(1447.99,445.20) scale(0.885,1)" text-anchor="middle">70</text><text transform="translate(829.10,424.00) scale(0.885,1)" text-anchor="end">0</text><text transform="translate(827.45,344.94) scale(0.885,1)" text-anchor="end">20</text><text transform="translate(827.45,265.88) scale(0.885,1)" text-anchor="end">40</text><text transform="translate(827.45,186.82) scale(0.885,1)" text-anchor="end">60</text><text transform="translate(827.45,107.76) scale(0.885,1)" text-anchor="end">80</text><text transform="translate(825.80,28.70) scale(0.885,1)" text-anchor="end">100</text><text x="1069.00" y="472.00" textLength="184" lengthAdjust="spacingAndGlyphs">Angle of deposition</text><text transform="translate(781.00,277.75) rotate(-90)" textLength="131.5" lengthAdjust="spacingAndGlyphs">Probability(%)</text></g>
<text x="891.07" y="529.60" font-family="Liberation Serif, serif" font-size="37" fill="#000" textLength="48.64" lengthAdjust="spacingAndGlyphs">(b)</text>
<text x="952.79" y="529.60" font-family="Liberation Serif, serif" font-size="37" fill="#000" textLength="172.62" lengthAdjust="spacingAndGlyphs">Deposition</text>
<text x="1137.17" y="529.60" font-family="Liberation Serif, serif" font-size="37" fill="#000" textLength="103.44" lengthAdjust="spacingAndGlyphs">energy</text>
<text x="1255.76" y="529.60" font-family="Liberation Serif, serif" font-size="37" fill="#000" textLength="80.64" lengthAdjust="spacingAndGlyphs">20eV</text>
<g><rect x="109.57" y="713.69" width="24.63" height="282.31" fill="#4855a3"/><rect x="109.57" y="704.18" width="24.63" height="9.52" fill="#72bcbd"/><rect x="109.57" y="649.06" width="24.63" height="55.11" fill="#c9242b"/><rect x="109.57" y="599.50" width="24.63" height="49.56" fill="#518848"/><rect x="134.20" y="725.98" width="25.08" height="270.02" fill="#4855a3"/><rect x="134.20" y="705.76" width="25.08" height="20.22" fill="#72bcbd"/><rect x="134.20" y="651.05" width="25.08" height="54.72" fill="#c9242b"/><rect x="134.20" y="599.50" width="25.08" height="51.55" fill="#518848"/><rect x="159.28" y="725.98" width="23.03" height="270.02" fill="#4855a3"/><rect x="159.28" y="711.31" width="23.03" height="14.67" fill="#72bcbd"/><rect x="159.28" y="652.63" width="23.03" height="58.68" fill="#c9242b"/><rect x="159.28" y="599.50" width="23.03" height="53.13" fill="#518848"/><rect x="182.32" y="727.57" width="24.83" height="268.43" fill="#4855a3"/><rect x="182.32" y="712.11" width="24.83" height="15.46" fill="#72bcbd"/><rect x="182.32" y="654.22" width="24.83" height="57.89" fill="#c9242b"/><rect x="182.32" y="599.50" width="24.83" height="54.72" fill="#518848"/><rect x="207.15" y="729.55" width="24.63" height="266.45" fill="#4855a3"/><rect x="207.15" y="713.69" width="24.63" height="15.86" fill="#72bcbd"/><rect x="207.15" y="656.20" width="24.63" height="57.49" fill="#c9242b"/><rect x="207.15" y="599.50" width="24.63" height="56.70" fill="#518848"/><rect x="231.79" y="742.64" width="23.13" height="253.36" fill="#4855a3"/><rect x="231.79" y="723.60" width="23.13" height="19.03" fill="#72bcbd"/><rect x="231.79" y="661.75" width="23.13" height="61.85" fill="#c9242b"/><rect x="231.79" y="599.50" width="23.13" height="62.25" fill="#518848"/><rect x="254.92" y="769.60" width="24.63" height="226.40" fill="#4855a3"/><rect x="254.92" y="737.48" width="24.63" height="32.12" fill="#72bcbd"/><rect x="254.92" y="665.72" width="24.63" height="71.77" fill="#c9242b"/><rect x="254.92" y="599.50" width="24.63" height="66.22" fill="#518848"/><rect x="279.55" y="802.11" width="25.08" height="193.89" fill="#4855a3"/><rect x="279.55" y="750.57" width="25.08" height="51.54" fill="#72bcbd"/><rect x="279.55" y="667.70" width="25.08" height="82.87" fill="#c9242b"/><rect x="279.55" y="599.50" width="25.08" height="68.20" fill="#518848"/><rect x="304.64" y="844.14" width="23.03" height="151.86" fill="#4855a3"/><rect x="304.64" y="775.15" width="23.03" height="68.99" fill="#72bcbd"/><rect x="304.64" y="687.13" width="23.03" height="88.02" fill="#c9242b"/><rect x="304.64" y="599.50" width="23.03" height="87.63" fill="#518848"/><rect x="327.67" y="884.58" width="24.53" height="111.42" fill="#4855a3"/><rect x="327.67" y="812.02" width="24.53" height="72.56" fill="#72bcbd"/><rect x="327.67" y="712.11" width="24.53" height="99.92" fill="#c9242b"/><rect x="327.67" y="599.50" width="24.53" height="112.61" fill="#518848"/><rect x="352.21" y="925.03" width="25.28" height="70.97" fill="#4855a3"/><rect x="352.21" y="861.59" width="25.28" height="63.44" fill="#72bcbd"/><rect x="352.21" y="735.50" width="25.28" height="126.09" fill="#c9242b"/><rect x="352.21" y="599.50" width="25.28" height="136.00" fill="#518848"/><rect x="377.49" y="942.47" width="22.63" height="53.53" fill="#4855a3"/><rect x="377.49" y="902.03" width="22.63" height="40.44" fill="#72bcbd"/><rect x="377.49" y="750.57" width="22.63" height="151.46" fill="#c9242b"/><rect x="377.49" y="599.50" width="22.63" height="151.07" fill="#518848"/><rect x="400.12" y="953.57" width="25.03" height="42.43" fill="#4855a3"/><rect x="400.12" y="925.03" width="25.03" height="28.55" fill="#72bcbd"/><rect x="400.12" y="756.12" width="25.03" height="168.91" fill="#c9242b"/><rect x="400.12" y="599.50" width="25.03" height="156.62" fill="#518848"/><rect x="425.16" y="961.11" width="24.53" height="34.89" fill="#4855a3"/><rect x="425.16" y="940.49" width="24.53" height="20.62" fill="#72bcbd"/><rect x="425.16" y="761.67" width="24.53" height="178.82" fill="#c9242b"/><rect x="425.16" y="599.50" width="24.53" height="162.17" fill="#518848"/><rect x="449.69" y="976.17" width="22.93" height="19.83" fill="#4855a3"/><rect x="449.69" y="969.83" width="22.93" height="6.34" fill="#72bcbd"/><rect x="449.69" y="767.22" width="22.93" height="202.61" fill="#c9242b"/><rect x="449.69" y="599.50" width="22.93" height="167.72" fill="#518848"/><rect x="472.63" y="985.69" width="25.13" height="10.31" fill="#4855a3"/><rect x="472.63" y="984.50" width="25.13" height="1.19" fill="#72bcbd"/><rect x="472.63" y="971.02" width="25.13" height="13.48" fill="#000000"/><rect x="472.63" y="765.63" width="25.13" height="205.39" fill="#c9242b"/><rect x="472.63" y="599.50" width="25.13" height="166.13" fill="#518848"/><rect x="497.76" y="990.45" width="24.88" height="5.55" fill="#4855a3"/><rect x="497.76" y="988.86" width="24.88" height="1.59" fill="#72bcbd"/><rect x="497.76" y="957.54" width="24.88" height="31.32" fill="#000000"/><rect x="497.76" y="763.65" width="24.88" height="193.89" fill="#c9242b"/><rect x="497.76" y="599.50" width="24.88" height="164.15" fill="#518848"/><rect x="522.65" y="994.81" width="22.98" height="1.19" fill="#72bcbd"/><rect x="522.65" y="936.52" width="22.98" height="58.29" fill="#000000"/><rect x="522.65" y="756.51" width="22.98" height="180.01" fill="#c9242b"/><rect x="522.65" y="599.50" width="22.98" height="157.01" fill="#518848"/><rect x="545.63" y="892.12" width="24.88" height="103.88" fill="#000000"/><rect x="545.63" y="750.57" width="24.88" height="141.55" fill="#c9242b"/><rect x="545.63" y="599.50" width="24.88" height="151.07" fill="#518848"/><rect x="570.51" y="810.44" width="24.78" height="185.56" fill="#000000"/><rect x="570.51" y="725.59" width="24.78" height="84.85" fill="#c9242b"/><rect x="570.51" y="599.50" width="24.78" height="126.09" fill="#518848"/><rect x="595.30" y="693.07" width="24.93" height="302.93" fill="#000000"/><rect x="595.30" y="660.16" width="24.93" height="32.91" fill="#c9242b"/><rect x="595.30" y="599.50" width="24.93" height="60.66" fill="#518848"/><rect x="620.23" y="610.21" width="22.73" height="385.79" fill="#000000"/><rect x="620.23" y="606.64" width="22.73" height="3.57" fill="#c9242b"/><rect x="620.23" y="599.50" width="22.73" height="7.14" fill="#518848"/><rect x="642.97" y="994.81" width="24.93" height="1.19" fill="#72bcbd"/><rect x="642.97" y="603.86" width="24.93" height="390.95" fill="#000000"/><rect x="667.90" y="980.14" width="24.98" height="15.86" fill="#72bcbd"/><rect x="667.90" y="604.26" width="24.98" height="375.88" fill="#000000"/><rect x="667.90" y="600.69" width="24.98" height="3.57" fill="#c9242b"/><rect x="667.90" y="599.50" width="24.98" height="1.19" fill="#518848"/><rect x="109.57" y="713.69" width="24.63" height="282.31" fill="none" stroke="#fff" stroke-width="1.5"/><rect x="109.57" y="704.18" width="24.63" height="9.52" fill="none" stroke="#fff" stroke-width="1.5"/><rect x="109.57" y="649.06" width="24.63" height="55.11" fill="none" stroke="#fff" stroke-width="1.5"/><rect x="109.57" y="599.50" width="24.63" height="49.56" fill="none" stroke="#fff" stroke-width="1.5"/><rect x="134.20" y="725.98" width="25.08" height="270.02" fill="none" stroke="#fff" stroke-width="1.5"/><rect x="134.20" y="705.76" width="25.08" height="20.22" fill="none" stroke="#fff" stroke-width="1.5"/><rect x="134.20" y="651.05" width="25.08" height="54.72" fill="none" stroke="#fff" stroke-width="1.5"/><rect x="134.20" y="599.50" width="25.08" height="51.55" fill="none" stroke="#fff" stroke-width="1.5"/><rect x="159.28" y="725.98" width="23.03" height="270.02" fill="none" stroke="#fff" stroke-width="1.5"/><rect x="159.28" y="711.31" width="23.03" height="14.67" fill="none" stroke="#fff" stroke-width="1.5"/><rect x="159.28" y="652.63" width="23.03" height="58.68" fill="none" stroke="#fff" stroke-width="1.5"/><rect x="159.28" y="599.50" width="23.03" height="53.13" fill="none" stroke="#fff" stroke-width="1.5"/><rect x="182.32" y="727.57" width="24.83" height="268.43" fill="none" stroke="#fff" stroke-width="1.5"/><rect x="182.32" y="712.11" width="24.83" height="15.46" fill="none" stroke="#fff" stroke-width="1.5"/><rect x="182.32" y="654.22" width="24.83" height="57.89" fill="none" stroke="#fff" stroke-width="1.5"/><rect x="182.32" y="599.50" width="24.83" height="54.72" fill="none" stroke="#fff" stroke-width="1.5"/><rect x="207.15" y="729.55" width="24.63" height="266.45" fill="none" stroke="#fff" stroke-width="1.5"/><rect x="207.15" y="713.69" width="24.63" height="15.86" fill="none" stroke="#fff" stroke-width="1.5"/><rect x="207.15" y="656.20" width="24.63" height="57.49" fill="none" stroke="#fff" stroke-width="1.5"/><rect x="207.15" y="599.50" width="24.63" height="56.70" fill="none" stroke="#fff" stroke-width="1.5"/><rect x="231.79" y="742.64" width="23.13" height="253.36" fill="none" stroke="#fff" stroke-width="1.5"/><rect x="231.79" y="723.60" width="23.13" height="19.03" fill="none" stroke="#fff" stroke-width="1.5"/><rect x="231.79" y="661.75" width="23.13" height="61.85" fill="none" stroke="#fff" stroke-width="1.5"/><rect x="231.79" y="599.50" width="23.13" height="62.25" fill="none" stroke="#fff" stroke-width="1.5"/><rect x="254.92" y="769.60" width="24.63" height="226.40" fill="none" stroke="#fff" stroke-width="1.5"/><rect x="254.92" y="737.48" width="24.63" height="32.12" fill="none" stroke="#fff" stroke-width="1.5"/><rect x="254.92" y="665.72" width="24.63" height="71.77" fill="none" stroke="#fff" stroke-width="1.5"/><rect x="254.92" y="599.50" width="24.63" height="66.22" fill="none" stroke="#fff" stroke-width="1.5"/><rect x="279.55" y="802.11" width="25.08" height="193.89" fill="none" stroke="#fff" stroke-width="1.5"/><rect x="279.55" y="750.57" width="25.08" height="51.54" fill="none" stroke="#fff" stroke-width="1.5"/><rect x="279.55" y="667.70" width="25.08" height="82.87" fill="none" stroke="#fff" stroke-width="1.5"/><rect x="279.55" y="599.50" width="25.08" height="68.20" fill="none" stroke="#fff" stroke-width="1.5"/><rect x="304.64" y="844.14" width="23.03" height="151.86" fill="none" stroke="#fff" stroke-width="1.5"/><rect x="304.64" y="775.15" width="23.03" height="68.99" fill="none" stroke="#fff" stroke-width="1.5"/><rect x="304.64" y="687.13" width="23.03" height="88.02" fill="none" stroke="#fff" stroke-width="1.5"/><rect x="304.64" y="599.50" width="23.03" height="87.63" fill="none" stroke="#fff" stroke-width="1.5"/><rect x="327.67" y="884.58" width="24.53" height="111.42" fill="none" stroke="#fff" stroke-width="1.5"/><rect x="327.67" y="812.02" width="24.53" height="72.56" fill="none" stroke="#fff" stroke-width="1.5"/><rect x="327.67" y="712.11" width="24.53" height="99.92" fill="none" stroke="#fff" stroke-width="1.5"/><rect x="327.67" y="599.50" width="24.53" height="112.61" fill="none" stroke="#fff" stroke-width="1.5"/><rect x="352.21" y="925.03" width="25.28" height="70.97" fill="none" stroke="#fff" stroke-width="1.5"/><rect x="352.21" y="861.59" width="25.28" height="63.44" fill="none" stroke="#fff" stroke-width="1.5"/><rect x="352.21" y="735.50" width="25.28" height="126.09" fill="none" stroke="#fff" stroke-width="1.5"/><rect x="352.21" y="599.50" width="25.28" height="136.00" fill="none" stroke="#fff" stroke-width="1.5"/><rect x="377.49" y="942.47" width="22.63" height="53.53" fill="none" stroke="#fff" stroke-width="1.5"/><rect x="377.49" y="902.03" width="22.63" height="40.44" fill="none" stroke="#fff" stroke-width="1.5"/><rect x="377.49" y="750.57" width="22.63" height="151.46" fill="none" stroke="#fff" stroke-width="1.5"/><rect x="377.49" y="599.50" width="22.63" height="151.07" fill="none" stroke="#fff" stroke-width="1.5"/><rect x="400.12" y="953.57" width="25.03" height="42.43" fill="none" stroke="#fff" stroke-width="1.5"/><rect x="400.12" y="925.03" width="25.03" height="28.55" fill="none" stroke="#fff" stroke-width="1.5"/><rect x="400.12" y="756.12" width="25.03" height="168.91" fill="none" stroke="#fff" stroke-width="1.5"/><rect x="400.12" y="599.50" width="25.03" height="156.62" fill="none" stroke="#fff" stroke-width="1.5"/><rect x="425.16" y="961.11" width="24.53" height="34.89" fill="none" stroke="#fff" stroke-width="1.5"/><rect x="425.16" y="940.49" width="24.53" height="20.62" fill="none" stroke="#fff" stroke-width="1.5"/><rect x="425.16" y="761.67" width="24.53" height="178.82" fill="none" stroke="#fff" stroke-width="1.5"/><rect x="425.16" y="599.50" width="24.53" height="162.17" fill="none" stroke="#fff" stroke-width="1.5"/><rect x="449.69" y="976.17" width="22.93" height="19.83" fill="none" stroke="#fff" stroke-width="1.5"/><rect x="449.69" y="969.83" width="22.93" height="6.34" fill="none" stroke="#fff" stroke-width="1.5"/><rect x="449.69" y="767.22" width="22.93" height="202.61" fill="none" stroke="#fff" stroke-width="1.5"/><rect x="449.69" y="599.50" width="22.93" height="167.72" fill="none" stroke="#fff" stroke-width="1.5"/><rect x="472.63" y="985.69" width="25.13" height="10.31" fill="none" stroke="#fff" stroke-width="1.5"/><rect x="472.63" y="984.50" width="25.13" height="1.19" fill="none" stroke="#fff" stroke-width="1.5"/><rect x="472.63" y="971.02" width="25.13" height="13.48" fill="none" stroke="#fff" stroke-width="1.5"/><rect x="472.63" y="765.63" width="25.13" height="205.39" fill="none" stroke="#fff" stroke-width="1.5"/><rect x="472.63" y="599.50" width="25.13" height="166.13" fill="none" stroke="#fff" stroke-width="1.5"/><rect x="497.76" y="990.45" width="24.88" height="5.55" fill="none" stroke="#fff" stroke-width="1.5"/><rect x="497.76" y="988.86" width="24.88" height="1.59" fill="none" stroke="#fff" stroke-width="1.5"/><rect x="497.76" y="957.54" width="24.88" height="31.32" fill="none" stroke="#fff" stroke-width="1.5"/><rect x="497.76" y="763.65" width="24.88" height="193.89" fill="none" stroke="#fff" stroke-width="1.5"/><rect x="497.76" y="599.50" width="24.88" height="164.15" fill="none" stroke="#fff" stroke-width="1.5"/><rect x="522.65" y="994.81" width="22.98" height="1.19" fill="none" stroke="#fff" stroke-width="1.5"/><rect x="522.65" y="936.52" width="22.98" height="58.29" fill="none" stroke="#fff" stroke-width="1.5"/><rect x="522.65" y="756.51" width="22.98" height="180.01" fill="none" stroke="#fff" stroke-width="1.5"/><rect x="522.65" y="599.50" width="22.98" height="157.01" fill="none" stroke="#fff" stroke-width="1.5"/><rect x="545.63" y="892.12" width="24.88" height="103.88" fill="none" stroke="#fff" stroke-width="1.5"/><rect x="545.63" y="750.57" width="24.88" height="141.55" fill="none" stroke="#fff" stroke-width="1.5"/><rect x="545.63" y="599.50" width="24.88" height="151.07" fill="none" stroke="#fff" stroke-width="1.5"/><rect x="570.51" y="810.44" width="24.78" height="185.56" fill="none" stroke="#fff" stroke-width="1.5"/><rect x="570.51" y="725.59" width="24.78" height="84.85" fill="none" stroke="#fff" stroke-width="1.5"/><rect x="570.51" y="599.50" width="24.78" height="126.09" fill="none" stroke="#fff" stroke-width="1.5"/><rect x="595.30" y="693.07" width="24.93" height="302.93" fill="none" stroke="#fff" stroke-width="1.5"/><rect x="595.30" y="660.16" width="24.93" height="32.91" fill="none" stroke="#fff" stroke-width="1.5"/><rect x="595.30" y="599.50" width="24.93" height="60.66" fill="none" stroke="#fff" stroke-width="1.5"/><rect x="620.23" y="610.21" width="22.73" height="385.79" fill="none" stroke="#fff" stroke-width="1.5"/><rect x="620.23" y="606.64" width="22.73" height="3.57" fill="none" stroke="#fff" stroke-width="1.5"/><rect x="620.23" y="599.50" width="22.73" height="7.14" fill="none" stroke="#fff" stroke-width="1.5"/><rect x="642.97" y="994.81" width="24.93" height="1.19" fill="none" stroke="#fff" stroke-width="1.5"/><rect x="642.97" y="603.86" width="24.93" height="390.95" fill="none" stroke="#fff" stroke-width="1.5"/><rect x="667.90" y="980.14" width="24.98" height="15.86" fill="none" stroke="#fff" stroke-width="1.5"/><rect x="667.90" y="604.26" width="24.98" height="375.88" fill="none" stroke="#fff" stroke-width="1.5"/><rect x="667.90" y="600.69" width="24.98" height="3.57" fill="none" stroke="#fff" stroke-width="1.5"/><rect x="667.90" y="599.50" width="24.98" height="1.19" fill="none" stroke="#fff" stroke-width="1.5"/></g>
<rect x="81.00" y="580.00" width="640.40" height="416.00" fill="none" stroke="#1a1a1a" stroke-width="2"/>
<g stroke="#1a1a1a" stroke-width="1.7"><line x1="122.30" y1="996.00" x2="122.30" y2="1003.50"/><line x1="202.94" y1="996.00" x2="202.94" y2="1003.50"/><line x1="283.58" y1="996.00" x2="283.58" y2="1003.50"/><line x1="364.22" y1="996.00" x2="364.22" y2="1003.50"/><line x1="444.86" y1="996.00" x2="444.86" y2="1003.50"/><line x1="525.50" y1="996.00" x2="525.50" y2="1003.50"/><line x1="606.14" y1="996.00" x2="606.14" y2="1003.50"/><line x1="686.78" y1="996.00" x2="686.78" y2="1003.50"/><line x1="73.50" y1="996.00" x2="81.00" y2="996.00"/><line x1="73.50" y1="916.70" x2="81.00" y2="916.70"/><line x1="73.50" y1="837.40" x2="81.00" y2="837.40"/><line x1="73.50" y1="758.10" x2="81.00" y2="758.10"/><line x1="73.50" y1="678.80" x2="81.00" y2="678.80"/><line x1="73.50" y1="599.50" x2="81.00" y2="599.50"/></g>
<g font-family="Liberation Sans, sans-serif" font-size="21.5" fill="#111"><text transform="translate(122.30,1023.50) scale(0.885,1)" text-anchor="middle">0</text><text transform="translate(202.94,1023.50) scale(0.885,1)" text-anchor="middle">10</text><text transform="translate(283.58,1023.50) scale(0.885,1)" text-anchor="middle">20</text><text transform="translate(364.22,1023.50) scale(0.885,1)" text-anchor="middle">30</text><text transform="translate(444.86,1023.50) scale(0.885,1)" text-anchor="middle">40</text><text transform="translate(525.50,1023.50) scale(0.885,1)" text-anchor="middle">50</text><text transform="translate(606.14,1023.50) scale(0.885,1)" text-anchor="middle">60</text><text transform="translate(686.78,1023.50) scale(0.885,1)" text-anchor="middle">70</text><text transform="translate(66.80,1002.30) scale(0.885,1)" text-anchor="end">0</text><text transform="translate(65.15,923.00) scale(0.885,1)" text-anchor="end">20</text><text transform="translate(65.15,843.70) scale(0.885,1)" text-anchor="end">40</text><text transform="translate(65.15,764.40) scale(0.885,1)" text-anchor="end">60</text><text transform="translate(65.15,685.10) scale(0.885,1)" text-anchor="end">80</text><text transform="translate(63.50,605.80) scale(0.885,1)" text-anchor="end">100</text><text x="307.40" y="1050.30" textLength="184" lengthAdjust="spacingAndGlyphs">Angle of deposition</text><text transform="translate(18.70,855.25) rotate(-90)" textLength="131.5" lengthAdjust="spacingAndGlyphs">Probability(%)</text></g>
<text x="131.02" y="1102.10" font-family="Liberation Serif, serif" font-size="37" fill="#000" textLength="46.01" lengthAdjust="spacingAndGlyphs">(c)</text>
<text x="189.39" y="1102.10" font-family="Liberation Serif, serif" font-size="37" fill="#000" textLength="172.61" lengthAdjust="spacingAndGlyphs">Deposition</text>
<text x="373.37" y="1102.10" font-family="Liberation Serif, serif" font-size="37" fill="#000" textLength="104.84" lengthAdjust="spacingAndGlyphs">energy</text>
<text x="492.36" y="1102.10" font-family="Liberation Serif, serif" font-size="37" fill="#000" textLength="80.64" lengthAdjust="spacingAndGlyphs">30eV</text>
<g><rect x="872.23" y="697.99" width="24.67" height="298.81" fill="#4855a3"/><rect x="872.23" y="678.97" width="24.67" height="19.02" fill="#72bcbd"/><rect x="872.23" y="636.17" width="24.67" height="42.80" fill="#c9242b"/><rect x="872.23" y="600.50" width="24.67" height="35.67" fill="#518848"/><rect x="896.90" y="697.99" width="25.12" height="298.81" fill="#4855a3"/><rect x="896.90" y="682.53" width="25.12" height="15.46" fill="#72bcbd"/><rect x="896.90" y="637.75" width="25.12" height="44.78" fill="#c9242b"/><rect x="896.90" y="600.50" width="25.12" height="37.25" fill="#518848"/><rect x="922.02" y="690.06" width="23.07" height="306.74" fill="#4855a3"/><rect x="922.02" y="679.76" width="23.07" height="10.30" fill="#72bcbd"/><rect x="922.02" y="636.17" width="23.07" height="43.59" fill="#c9242b"/><rect x="922.02" y="600.50" width="23.07" height="35.67" fill="#518848"/><rect x="945.08" y="690.06" width="24.87" height="306.74" fill="#4855a3"/><rect x="945.08" y="679.76" width="24.87" height="10.30" fill="#72bcbd"/><rect x="945.08" y="634.58" width="24.87" height="45.18" fill="#c9242b"/><rect x="945.08" y="600.50" width="24.87" height="34.08" fill="#518848"/><rect x="969.95" y="694.03" width="24.67" height="302.77" fill="#4855a3"/><rect x="969.95" y="680.55" width="24.67" height="13.47" fill="#72bcbd"/><rect x="969.95" y="634.58" width="24.67" height="45.97" fill="#c9242b"/><rect x="969.95" y="600.50" width="24.67" height="34.08" fill="#518848"/><rect x="994.61" y="707.50" width="23.17" height="289.30" fill="#4855a3"/><rect x="994.61" y="690.06" width="23.17" height="17.44" fill="#72bcbd"/><rect x="994.61" y="646.07" width="23.17" height="43.99" fill="#c9242b"/><rect x="994.61" y="600.50" width="23.17" height="45.57" fill="#518848"/><rect x="1017.78" y="736.43" width="24.67" height="260.37" fill="#4855a3"/><rect x="1017.78" y="699.97" width="24.67" height="36.46" fill="#72bcbd"/><rect x="1017.78" y="647.66" width="24.67" height="52.31" fill="#c9242b"/><rect x="1017.78" y="600.50" width="24.67" height="47.16" fill="#518848"/><rect x="1042.45" y="789.93" width="25.12" height="206.87" fill="#4855a3"/><rect x="1042.45" y="716.62" width="25.12" height="73.32" fill="#72bcbd"/><rect x="1042.45" y="657.57" width="25.12" height="59.05" fill="#c9242b"/><rect x="1042.45" y="600.50" width="25.12" height="57.07" fill="#518848"/><rect x="1067.56" y="827.98" width="23.07" height="168.82" fill="#4855a3"/><rect x="1067.56" y="738.02" width="23.07" height="89.96" fill="#72bcbd"/><rect x="1067.56" y="672.63" width="23.07" height="65.39" fill="#c9242b"/><rect x="1067.56" y="600.50" width="23.07" height="72.13" fill="#518848"/><rect x="1090.63" y="850.96" width="24.57" height="145.84" fill="#4855a3"/><rect x="1090.63" y="768.53" width="24.57" height="82.43" fill="#72bcbd"/><rect x="1090.63" y="692.05" width="24.57" height="76.49" fill="#c9242b"/><rect x="1090.63" y="600.50" width="24.57" height="91.55" fill="#518848"/><rect x="1115.19" y="875.93" width="25.32" height="120.87" fill="#4855a3"/><rect x="1115.19" y="811.33" width="25.32" height="64.60" fill="#72bcbd"/><rect x="1115.19" y="713.05" width="25.32" height="98.28" fill="#c9242b"/><rect x="1115.19" y="600.50" width="25.32" height="112.55" fill="#518848"/><rect x="1140.51" y="900.90" width="22.67" height="95.90" fill="#4855a3"/><rect x="1140.51" y="843.04" width="22.67" height="57.86" fill="#72bcbd"/><rect x="1140.51" y="723.35" width="22.67" height="119.68" fill="#c9242b"/><rect x="1140.51" y="600.50" width="22.67" height="122.85" fill="#518848"/><rect x="1163.17" y="927.84" width="25.07" height="68.96" fill="#4855a3"/><rect x="1163.17" y="873.95" width="25.07" height="53.90" fill="#72bcbd"/><rect x="1163.17" y="730.49" width="25.07" height="143.46" fill="#c9242b"/><rect x="1163.17" y="600.50" width="25.07" height="129.99" fill="#518848"/><rect x="1188.24" y="941.32" width="24.57" height="55.48" fill="#4855a3"/><rect x="1188.24" y="904.07" width="24.57" height="37.25" fill="#72bcbd"/><rect x="1188.24" y="741.58" width="24.57" height="162.48" fill="#c9242b"/><rect x="1188.24" y="600.50" width="24.57" height="141.08" fill="#518848"/><rect x="1212.81" y="954.40" width="22.97" height="42.40" fill="#4855a3"/><rect x="1212.81" y="931.41" width="22.97" height="22.99" fill="#72bcbd"/><rect x="1212.81" y="925.47" width="22.97" height="5.94" fill="#000000"/><rect x="1212.81" y="745.55" width="22.97" height="179.92" fill="#c9242b"/><rect x="1212.81" y="600.50" width="22.97" height="145.05" fill="#518848"/><rect x="1235.77" y="955.98" width="25.17" height="40.82" fill="#4855a3"/><rect x="1235.77" y="940.92" width="25.17" height="15.06" fill="#72bcbd"/><rect x="1235.77" y="922.30" width="25.17" height="18.63" fill="#000000"/><rect x="1235.77" y="734.45" width="25.17" height="187.85" fill="#c9242b"/><rect x="1235.77" y="600.50" width="25.17" height="133.95" fill="#518848"/><rect x="1260.94" y="963.91" width="24.92" height="32.89" fill="#4855a3"/><rect x="1260.94" y="955.98" width="24.92" height="7.93" fill="#72bcbd"/><rect x="1260.94" y="914.77" width="24.92" height="41.22" fill="#000000"/><rect x="1260.94" y="726.52" width="24.92" height="188.24" fill="#c9242b"/><rect x="1260.94" y="600.50" width="24.92" height="126.02" fill="#518848"/><rect x="1285.85" y="985.31" width="23.02" height="11.49" fill="#4855a3"/><rect x="1285.85" y="980.95" width="23.02" height="4.36" fill="#72bcbd"/><rect x="1285.85" y="904.46" width="23.02" height="76.49" fill="#000000"/><rect x="1285.85" y="718.60" width="23.02" height="185.86" fill="#c9242b"/><rect x="1285.85" y="600.50" width="23.02" height="118.10" fill="#518848"/><rect x="1308.87" y="994.42" width="24.92" height="2.38" fill="#72bcbd"/><rect x="1308.87" y="855.32" width="24.92" height="139.10" fill="#000000"/><rect x="1308.87" y="697.99" width="24.92" height="157.33" fill="#c9242b"/><rect x="1308.87" y="600.50" width="24.92" height="97.49" fill="#518848"/><rect x="1333.79" y="745.94" width="24.82" height="250.86" fill="#000000"/><rect x="1333.79" y="670.65" width="24.82" height="75.30" fill="#c9242b"/><rect x="1333.79" y="600.50" width="24.82" height="70.15" fill="#518848"/><rect x="1358.60" y="642.11" width="24.97" height="354.69" fill="#000000"/><rect x="1358.60" y="627.05" width="24.97" height="15.06" fill="#c9242b"/><rect x="1358.60" y="600.50" width="24.97" height="26.55" fill="#518848"/><rect x="1383.57" y="995.21" width="22.77" height="1.59" fill="#72bcbd"/><rect x="1383.57" y="605.26" width="22.77" height="389.96" fill="#000000"/><rect x="1406.33" y="980.95" width="24.97" height="15.85" fill="#72bcbd"/><rect x="1406.33" y="601.29" width="24.97" height="379.66" fill="#000000"/><rect x="1406.33" y="600.50" width="24.97" height="0.79" fill="#518848"/><rect x="1431.30" y="986.89" width="25.02" height="9.91" fill="#72bcbd"/><rect x="1431.30" y="601.29" width="25.02" height="385.60" fill="#000000"/><rect x="1431.30" y="600.50" width="25.02" height="0.79" fill="#518848"/><rect x="872.23" y="697.99" width="24.67" height="298.81" fill="none" stroke="#fff" stroke-width="1.5"/><rect x="872.23" y="678.97" width="24.67" height="19.02" fill="none" stroke="#fff" stroke-width="1.5"/><rect x="872.23" y="636.17" width="24.67" height="42.80" fill="none" stroke="#fff" stroke-width="1.5"/><rect x="872.23" y="600.50" width="24.67" height="35.67" fill="none" stroke="#fff" stroke-width="1.5"/><rect x="896.90" y="697.99" width="25.12" height="298.81" fill="none" stroke="#fff" stroke-width="1.5"/><rect x="896.90" y="682.53" width="25.12" height="15.46" fill="none" stroke="#fff" stroke-width="1.5"/><rect x="896.90" y="637.75" width="25.12" height="44.78" fill="none" stroke="#fff" stroke-width="1.5"/><rect x="896.90" y="600.50" width="25.12" height="37.25" fill="none" stroke="#fff" stroke-width="1.5"/><rect x="922.02" y="690.06" width="23.07" height="306.74" fill="none" stroke="#fff" stroke-width="1.5"/><rect x="922.02" y="679.76" width="23.07" height="10.30" fill="none" stroke="#fff" stroke-width="1.5"/><rect x="922.02" y="636.17" width="23.07" height="43.59" fill="none" stroke="#fff" stroke-width="1.5"/><rect x="922.02" y="600.50" width="23.07" height="35.67" fill="none" stroke="#fff" stroke-width="1.5"/><rect x="945.08" y="690.06" width="24.87" height="306.74" fill="none" stroke="#fff" stroke-width="1.5"/><rect x="945.08" y="679.76" width="24.87" height="10.30" fill="none" stroke="#fff" stroke-width="1.5"/><rect x="945.08" y="634.58" width="24.87" height="45.18" fill="none" stroke="#fff" stroke-width="1.5"/><rect x="945.08" y="600.50" width="24.87" height="34.08" fill="none" stroke="#fff" stroke-width="1.5"/><rect x="969.95" y="694.03" width="24.67" height="302.77" fill="none" stroke="#fff" stroke-width="1.5"/><rect x="969.95" y="680.55" width="24.67" height="13.47" fill="none" stroke="#fff" stroke-width="1.5"/><rect x="969.95" y="634.58" width="24.67" height="45.97" fill="none" stroke="#fff" stroke-width="1.5"/><rect x="969.95" y="600.50" width="24.67" height="34.08" fill="none" stroke="#fff" stroke-width="1.5"/><rect x="994.61" y="707.50" width="23.17" height="289.30" fill="none" stroke="#fff" stroke-width="1.5"/><rect x="994.61" y="690.06" width="23.17" height="17.44" fill="none" stroke="#fff" stroke-width="1.5"/><rect x="994.61" y="646.07" width="23.17" height="43.99" fill="none" stroke="#fff" stroke-width="1.5"/><rect x="994.61" y="600.50" width="23.17" height="45.57" fill="none" stroke="#fff" stroke-width="1.5"/><rect x="1017.78" y="736.43" width="24.67" height="260.37" fill="none" stroke="#fff" stroke-width="1.5"/><rect x="1017.78" y="699.97" width="24.67" height="36.46" fill="none" stroke="#fff" stroke-width="1.5"/><rect x="1017.78" y="647.66" width="24.67" height="52.31" fill="none" stroke="#fff" stroke-width="1.5"/><rect x="1017.78" y="600.50" width="24.67" height="47.16" fill="none" stroke="#fff" stroke-width="1.5"/><rect x="1042.45" y="789.93" width="25.12" height="206.87" fill="none" stroke="#fff" stroke-width="1.5"/><rect x="1042.45" y="716.62" width="25.12" height="73.32" fill="none" stroke="#fff" stroke-width="1.5"/><rect x="1042.45" y="657.57" width="25.12" height="59.05" fill="none" stroke="#fff" stroke-width="1.5"/><rect x="1042.45" y="600.50" width="25.12" height="57.07" fill="none" stroke="#fff" stroke-width="1.5"/><rect x="1067.56" y="827.98" width="23.07" height="168.82" fill="none" stroke="#fff" stroke-width="1.5"/><rect x="1067.56" y="738.02" width="23.07" height="89.96" fill="none" stroke="#fff" stroke-width="1.5"/><rect x="1067.56" y="672.63" width="23.07" height="65.39" fill="none" stroke="#fff" stroke-width="1.5"/><rect x="1067.56" y="600.50" width="23.07" height="72.13" fill="none" stroke="#fff" stroke-width="1.5"/><rect x="1090.63" y="850.96" width="24.57" height="145.84" fill="none" stroke="#fff" stroke-width="1.5"/><rect x="1090.63" y="768.53" width="24.57" height="82.43" fill="none" stroke="#fff" stroke-width="1.5"/><rect x="1090.63" y="692.05" width="24.57" height="76.49" fill="none" stroke="#fff" stroke-width="1.5"/><rect x="1090.63" y="600.50" width="24.57" height="91.55" fill="none" stroke="#fff" stroke-width="1.5"/><rect x="1115.19" y="875.93" width="25.32" height="120.87" fill="none" stroke="#fff" stroke-width="1.5"/><rect x="1115.19" y="811.33" width="25.32" height="64.60" fill="none" stroke="#fff" stroke-width="1.5"/><rect x="1115.19" y="713.05" width="25.32" height="98.28" fill="none" stroke="#fff" stroke-width="1.5"/><rect x="1115.19" y="600.50" width="25.32" height="112.55" fill="none" stroke="#fff" stroke-width="1.5"/><rect x="1140.51" y="900.90" width="22.67" height="95.90" fill="none" stroke="#fff" stroke-width="1.5"/><rect x="1140.51" y="843.04" width="22.67" height="57.86" fill="none" stroke="#fff" stroke-width="1.5"/><rect x="1140.51" y="723.35" width="22.67" height="119.68" fill="none" stroke="#fff" stroke-width="1.5"/><rect x="1140.51" y="600.50" width="22.67" height="122.85" fill="none" stroke="#fff" stroke-width="1.5"/><rect x="1163.17" y="927.84" width="25.07" height="68.96" fill="none" stroke="#fff" stroke-width="1.5"/><rect x="1163.17" y="873.95" width="25.07" height="53.90" fill="none" stroke="#fff" stroke-width="1.5"/><rect x="1163.17" y="730.49" width="25.07" height="143.46" fill="none" stroke="#fff" stroke-width="1.5"/><rect x="1163.17" y="600.50" width="25.07" height="129.99" fill="none" stroke="#fff" stroke-width="1.5"/><rect x="1188.24" y="941.32" width="24.57" height="55.48" fill="none" stroke="#fff" stroke-width="1.5"/><rect x="1188.24" y="904.07" width="24.57" height="37.25" fill="none" stroke="#fff" stroke-width="1.5"/><rect x="1188.24" y="741.58" width="24.57" height="162.48" fill="none" stroke="#fff" stroke-width="1.5"/><rect x="1188.24" y="600.50" width="24.57" height="141.08" fill="none" stroke="#fff" stroke-width="1.5"/><rect x="1212.81" y="954.40" width="22.97" height="42.40" fill="none" stroke="#fff" stroke-width="1.5"/><rect x="1212.81" y="931.41" width="22.97" height="22.99" fill="none" stroke="#fff" stroke-width="1.5"/><rect x="1212.81" y="925.47" width="22.97" height="5.94" fill="none" stroke="#fff" stroke-width="1.5"/><rect x="1212.81" y="745.55" width="22.97" height="179.92" fill="none" stroke="#fff" stroke-width="1.5"/><rect x="1212.81" y="600.50" width="22.97" height="145.05" fill="none" stroke="#fff" stroke-width="1.5"/><rect x="1235.77" y="955.98" width="25.17" height="40.82" fill="none" stroke="#fff" stroke-width="1.5"/><rect x="1235.77" y="940.92" width="25.17" height="15.06" fill="none" stroke="#fff" stroke-width="1.5"/><rect x="1235.77" y="922.30" width="25.17" height="18.63" fill="none" stroke="#fff" stroke-width="1.5"/><rect x="1235.77" y="734.45" width="25.17" height="187.85" fill="none" stroke="#fff" stroke-width="1.5"/><rect x="1235.77" y="600.50" width="25.17" height="133.95" fill="none" stroke="#fff" stroke-width="1.5"/><rect x="1260.94" y="963.91" width="24.92" height="32.89" fill="none" stroke="#fff" stroke-width="1.5"/><rect x="1260.94" y="955.98" width="24.92" height="7.93" fill="none" stroke="#fff" stroke-width="1.5"/><rect x="1260.94" y="914.77" width="24.92" height="41.22" fill="none" stroke="#fff" stroke-width="1.5"/><rect x="1260.94" y="726.52" width="24.92" height="188.24" fill="none" stroke="#fff" stroke-width="1.5"/><rect x="1260.94" y="600.50" width="24.92" height="126.02" fill="none" stroke="#fff" stroke-width="1.5"/><rect x="1285.85" y="985.31" width="23.02" height="11.49" fill="none" stroke="#fff" stroke-width="1.5"/><rect x="1285.85" y="980.95" width="23.02" height="4.36" fill="none" stroke="#fff" stroke-width="1.5"/><rect x="1285.85" y="904.46" width="23.02" height="76.49" fill="none" stroke="#fff" stroke-width="1.5"/><rect x="1285.85" y="718.60" width="23.02" height="185.86" fill="none" stroke="#fff" stroke-width="1.5"/><rect x="1285.85" y="600.50" width="23.02" height="118.10" fill="none" stroke="#fff" stroke-width="1.5"/><rect x="1308.87" y="994.42" width="24.92" height="2.38" fill="none" stroke="#fff" stroke-width="1.5"/><rect x="1308.87" y="855.32" width="24.92" height="139.10" fill="none" stroke="#fff" stroke-width="1.5"/><rect x="1308.87" y="697.99" width="24.92" height="157.33" fill="none" stroke="#fff" stroke-width="1.5"/><rect x="1308.87" y="600.50" width="24.92" height="97.49" fill="none" stroke="#fff" stroke-width="1.5"/><rect x="1333.79" y="745.94" width="24.82" height="250.86" fill="none" stroke="#fff" stroke-width="1.5"/><rect x="1333.79" y="670.65" width="24.82" height="75.30" fill="none" stroke="#fff" stroke-width="1.5"/><rect x="1333.79" y="600.50" width="24.82" height="70.15" fill="none" stroke="#fff" stroke-width="1.5"/><rect x="1358.60" y="642.11" width="24.97" height="354.69" fill="none" stroke="#fff" stroke-width="1.5"/><rect x="1358.60" y="627.05" width="24.97" height="15.06" fill="none" stroke="#fff" stroke-width="1.5"/><rect x="1358.60" y="600.50" width="24.97" height="26.55" fill="none" stroke="#fff" stroke-width="1.5"/><rect x="1383.57" y="995.21" width="22.77" height="1.59" fill="none" stroke="#fff" stroke-width="1.5"/><rect x="1383.57" y="605.26" width="22.77" height="389.96" fill="none" stroke="#fff" stroke-width="1.5"/><rect x="1406.33" y="980.95" width="24.97" height="15.85" fill="none" stroke="#fff" stroke-width="1.5"/><rect x="1406.33" y="601.29" width="24.97" height="379.66" fill="none" stroke="#fff" stroke-width="1.5"/><rect x="1406.33" y="600.50" width="24.97" height="0.79" fill="none" stroke="#fff" stroke-width="1.5"/><rect x="1431.30" y="986.89" width="25.02" height="9.91" fill="none" stroke="#fff" stroke-width="1.5"/><rect x="1431.30" y="601.29" width="25.02" height="385.60" fill="none" stroke="#fff" stroke-width="1.5"/><rect x="1431.30" y="600.50" width="25.02" height="0.79" fill="none" stroke="#fff" stroke-width="1.5"/></g>
<rect x="843.50" y="581.00" width="641.50" height="415.80" fill="none" stroke="#1a1a1a" stroke-width="2"/>
<g stroke="#1a1a1a" stroke-width="1.7"><line x1="885.50" y1="996.80" x2="885.50" y2="1004.30"/><line x1="966.20" y1="996.80" x2="966.20" y2="1004.30"/><line x1="1046.90" y1="996.80" x2="1046.90" y2="1004.30"/><line x1="1127.60" y1="996.80" x2="1127.60" y2="1004.30"/><line x1="1208.30" y1="996.80" x2="1208.30" y2="1004.30"/><line x1="1289.00" y1="996.80" x2="1289.00" y2="1004.30"/><line x1="1369.70" y1="996.80" x2="1369.70" y2="1004.30"/><line x1="1450.40" y1="996.80" x2="1450.40" y2="1004.30"/><line x1="836.00" y1="996.80" x2="843.50" y2="996.80"/><line x1="836.00" y1="917.54" x2="843.50" y2="917.54"/><line x1="836.00" y1="838.28" x2="843.50" y2="838.28"/><line x1="836.00" y1="759.02" x2="843.50" y2="759.02"/><line x1="836.00" y1="679.76" x2="843.50" y2="679.76"/><line x1="836.00" y1="600.50" x2="843.50" y2="600.50"/></g>
<g font-family="Liberation Sans, sans-serif" font-size="21.5" fill="#111"><text transform="translate(885.50,1024.30) scale(0.885,1)" text-anchor="middle">0</text><text transform="translate(966.20,1024.30) scale(0.885,1)" text-anchor="middle">10</text><text transform="translate(1046.90,1024.30) scale(0.885,1)" text-anchor="middle">20</text><text transform="translate(1127.60,1024.30) scale(0.885,1)" text-anchor="middle">30</text><text transform="translate(1208.30,1024.30) scale(0.885,1)" text-anchor="middle">40</text><text transform="translate(1289.00,1024.30) scale(0.885,1)" text-anchor="middle">50</text><text transform="translate(1369.70,1024.30) scale(0.885,1)" text-anchor="middle">60</text><text transform="translate(1450.40,1024.30) scale(0.885,1)" text-anchor="middle">70</text><text transform="translate(829.30,1003.10) scale(0.885,1)" text-anchor="end">0</text><text transform="translate(827.65,923.84) scale(0.885,1)" text-anchor="end">20</text><text transform="translate(827.65,844.58) scale(0.885,1)" text-anchor="end">40</text><text transform="translate(827.65,765.32) scale(0.885,1)" text-anchor="end">60</text><text transform="translate(827.65,686.06) scale(0.885,1)" text-anchor="end">80</text><text transform="translate(826.00,606.80) scale(0.885,1)" text-anchor="end">100</text><text x="1070.45" y="1051.10" textLength="184" lengthAdjust="spacingAndGlyphs">Angle of deposition</text><text transform="translate(781.20,856.15) rotate(-90)" textLength="131.5" lengthAdjust="spacingAndGlyphs">Probability(%)</text></g>
<text x="891.07" y="1102.70" font-family="Liberation Serif, serif" font-size="37" fill="#000" textLength="48.64" lengthAdjust="spacingAndGlyphs">(d)</text>
<text x="952.79" y="1102.70" font-family="Liberation Serif, serif" font-size="37" fill="#000" textLength="172.62" lengthAdjust="spacingAndGlyphs">Deposition</text>
<text x="1137.17" y="1102.70" font-family="Liberation Serif, serif" font-size="37" fill="#000" textLength="103.44" lengthAdjust="spacingAndGlyphs">energy</text>
<text x="1256.79" y="1102.70" font-family="Liberation Serif, serif" font-size="37" fill="#000" textLength="81.02" lengthAdjust="spacingAndGlyphs">40eV</text></svg>
</body></html>
